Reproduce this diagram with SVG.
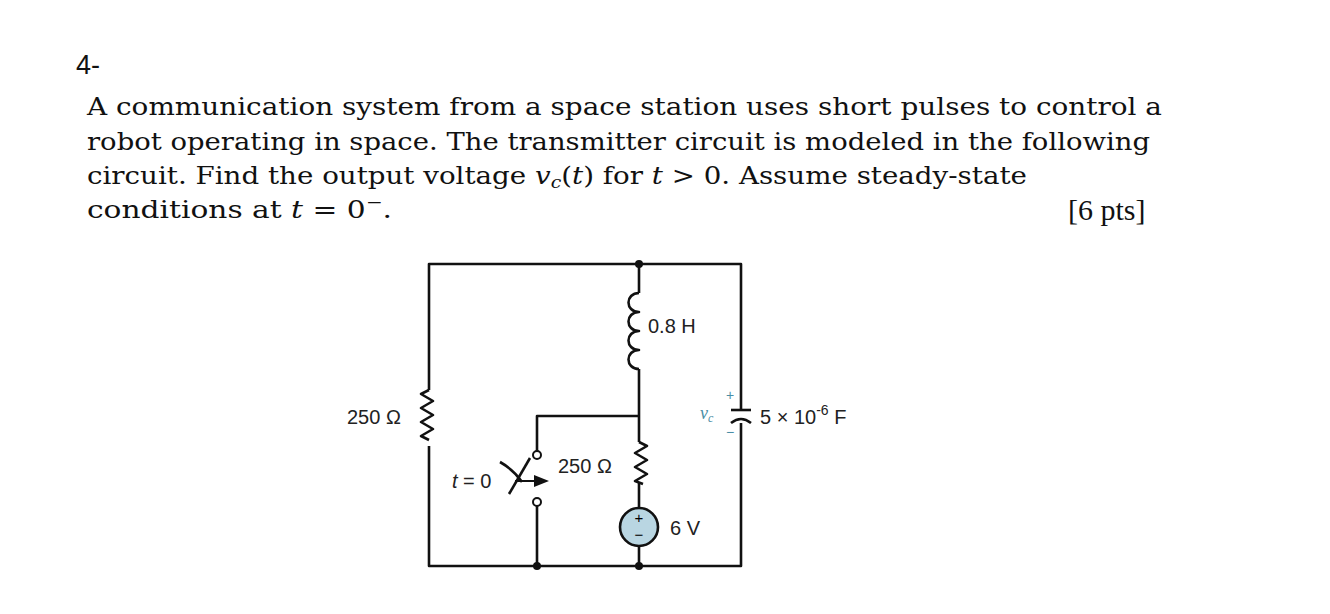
<svg xmlns="http://www.w3.org/2000/svg" width="1330" height="614" viewBox="0 0 1330 614">
<style>
.w{fill:none;stroke:#111;stroke-width:2.6;stroke-linejoin:round}
.t{font-family:"DejaVu Serif",serif;font-size:25px;fill:#111}
.s{font-family:"Liberation Sans",Arial,sans-serif;font-size:20px;fill:#222}
.b{font-family:"Liberation Serif",serif;font-style:italic;fill:#4a8ea6}
</style>
<rect width="1330" height="614" fill="#fff"/>
<text x="76" y="74" font-family="Liberation Sans,sans-serif" font-size="27" fill="#111">4-</text>
<text class="t" x="87" y="115" textLength="1075" lengthAdjust="spacingAndGlyphs">A communication system from a space station uses short pulses to control a</text>
<text class="t" x="87" y="150" textLength="1063" lengthAdjust="spacingAndGlyphs">robot operating in space. The transmitter circuit is modeled in the following</text>
<text class="t" x="87" y="184" textLength="940" lengthAdjust="spacingAndGlyphs">circuit. Find the output voltage <tspan font-style="italic">v</tspan><tspan font-style="italic" font-size="17" dy="4">c</tspan><tspan dy="-4">(</tspan><tspan font-style="italic">t</tspan>) for <tspan font-style="italic">t</tspan> &gt; 0. Assume steady-state</text>
<text class="t" x="87" y="218" textLength="305" lengthAdjust="spacingAndGlyphs">conditions at <tspan font-style="italic">t</tspan> = 0<tspan font-size="17" dy="-10">−</tspan><tspan dy="10">.</tspan></text>
<text x="1068" y="220" font-family="'Liberation Serif',serif" font-size="30" fill="#111">[6 pts]</text>
<g id="connectors">
<path class="w" d="M639,264 H429 V390 M429,446 V566 H741 V423 M741,410 V264 H639 V293 M639,369 V442 M639,482 V507 M639,547 V566 M537,566 V506 M537,451 V416 H639"/>
</g>
<g id="inductor"><path class="w" d="M639,293 c-14,0 -14,19 0,19 c-14,0 -14,19 0,19 c-14,0 -14,19 0,19 c-14,0 -14,19 0,19"/><text class="s" x="648" y="333">0.8 H</text></g>
<g id="R1"><path class="w" d="M429,390 l-8,4 l12,7 l-12,7 l12,7 l-12,7 l12,7 l-12,7 l8,4"/><text class="s" x="347" y="424">250 Ω</text></g>
<g id="R2"><path class="w" d="M639,442 l8,4 l-12,7 l12,7 l-12,7 l12,7 l-12,7 l8,3"/><text class="s" x="558" y="473">250 Ω</text></g>
<g id="switch">
<circle cx="537" cy="455" r="4" fill="#fff" stroke="#111" stroke-width="2"/>
<circle cx="537" cy="502" r="4" fill="#fff" stroke="#111" stroke-width="2"/>
<path class="w" stroke-width="2" d="M500,462 q14,8 22,20"/>
<path class="w" stroke-width="2" d="M530,458 L509,494"/>
<path d="M515,481 H536" stroke="#111" stroke-width="2"/>
<path d="M534,475 L549,481 L534,487 Z" fill="#111"/>
<text class="s" x="452" y="488" font-size="18" fill="#555"><tspan font-style="italic">t</tspan> = 0</text>
</g>
<g id="source"><circle cx="639" cy="527" r="19" fill="#b9d6e2" stroke="#111" stroke-width="2.6"/><text x="639" y="523" text-anchor="middle" font-family="Liberation Sans,sans-serif" font-size="15">+</text><text x="639" y="540" text-anchor="middle" font-family="Liberation Sans,sans-serif" font-size="15">−</text><text class="s" x="670" y="535">6 V</text></g>
<g id="cap">
<path class="w" d="M731,410 H751" stroke-width="3"/>
<path class="w" d="M731,423 Q741,415 751,423" stroke-width="2.6"/>
<text x="730" y="400" font-family="Liberation Sans,sans-serif" font-size="14" fill="#4a8ea6" text-anchor="middle">+</text>
<text x="730" y="437" font-family="Liberation Sans,sans-serif" font-size="14" fill="#4a8ea6" text-anchor="middle">−</text>
<text class="b" x="700" y="419" font-size="18">v<tspan font-size="12" dy="3">c</tspan></text>
<text class="s" x="760" y="424">5 × 10<tspan font-size="14" dy="-9">-6</tspan><tspan dy="9"> F</tspan></text>
</g>
<g id="dots" fill="#111"><circle cx="639" cy="264" r="4"/><circle cx="639" cy="566" r="4"/><circle cx="537" cy="566" r="4"/></g>
</svg>
